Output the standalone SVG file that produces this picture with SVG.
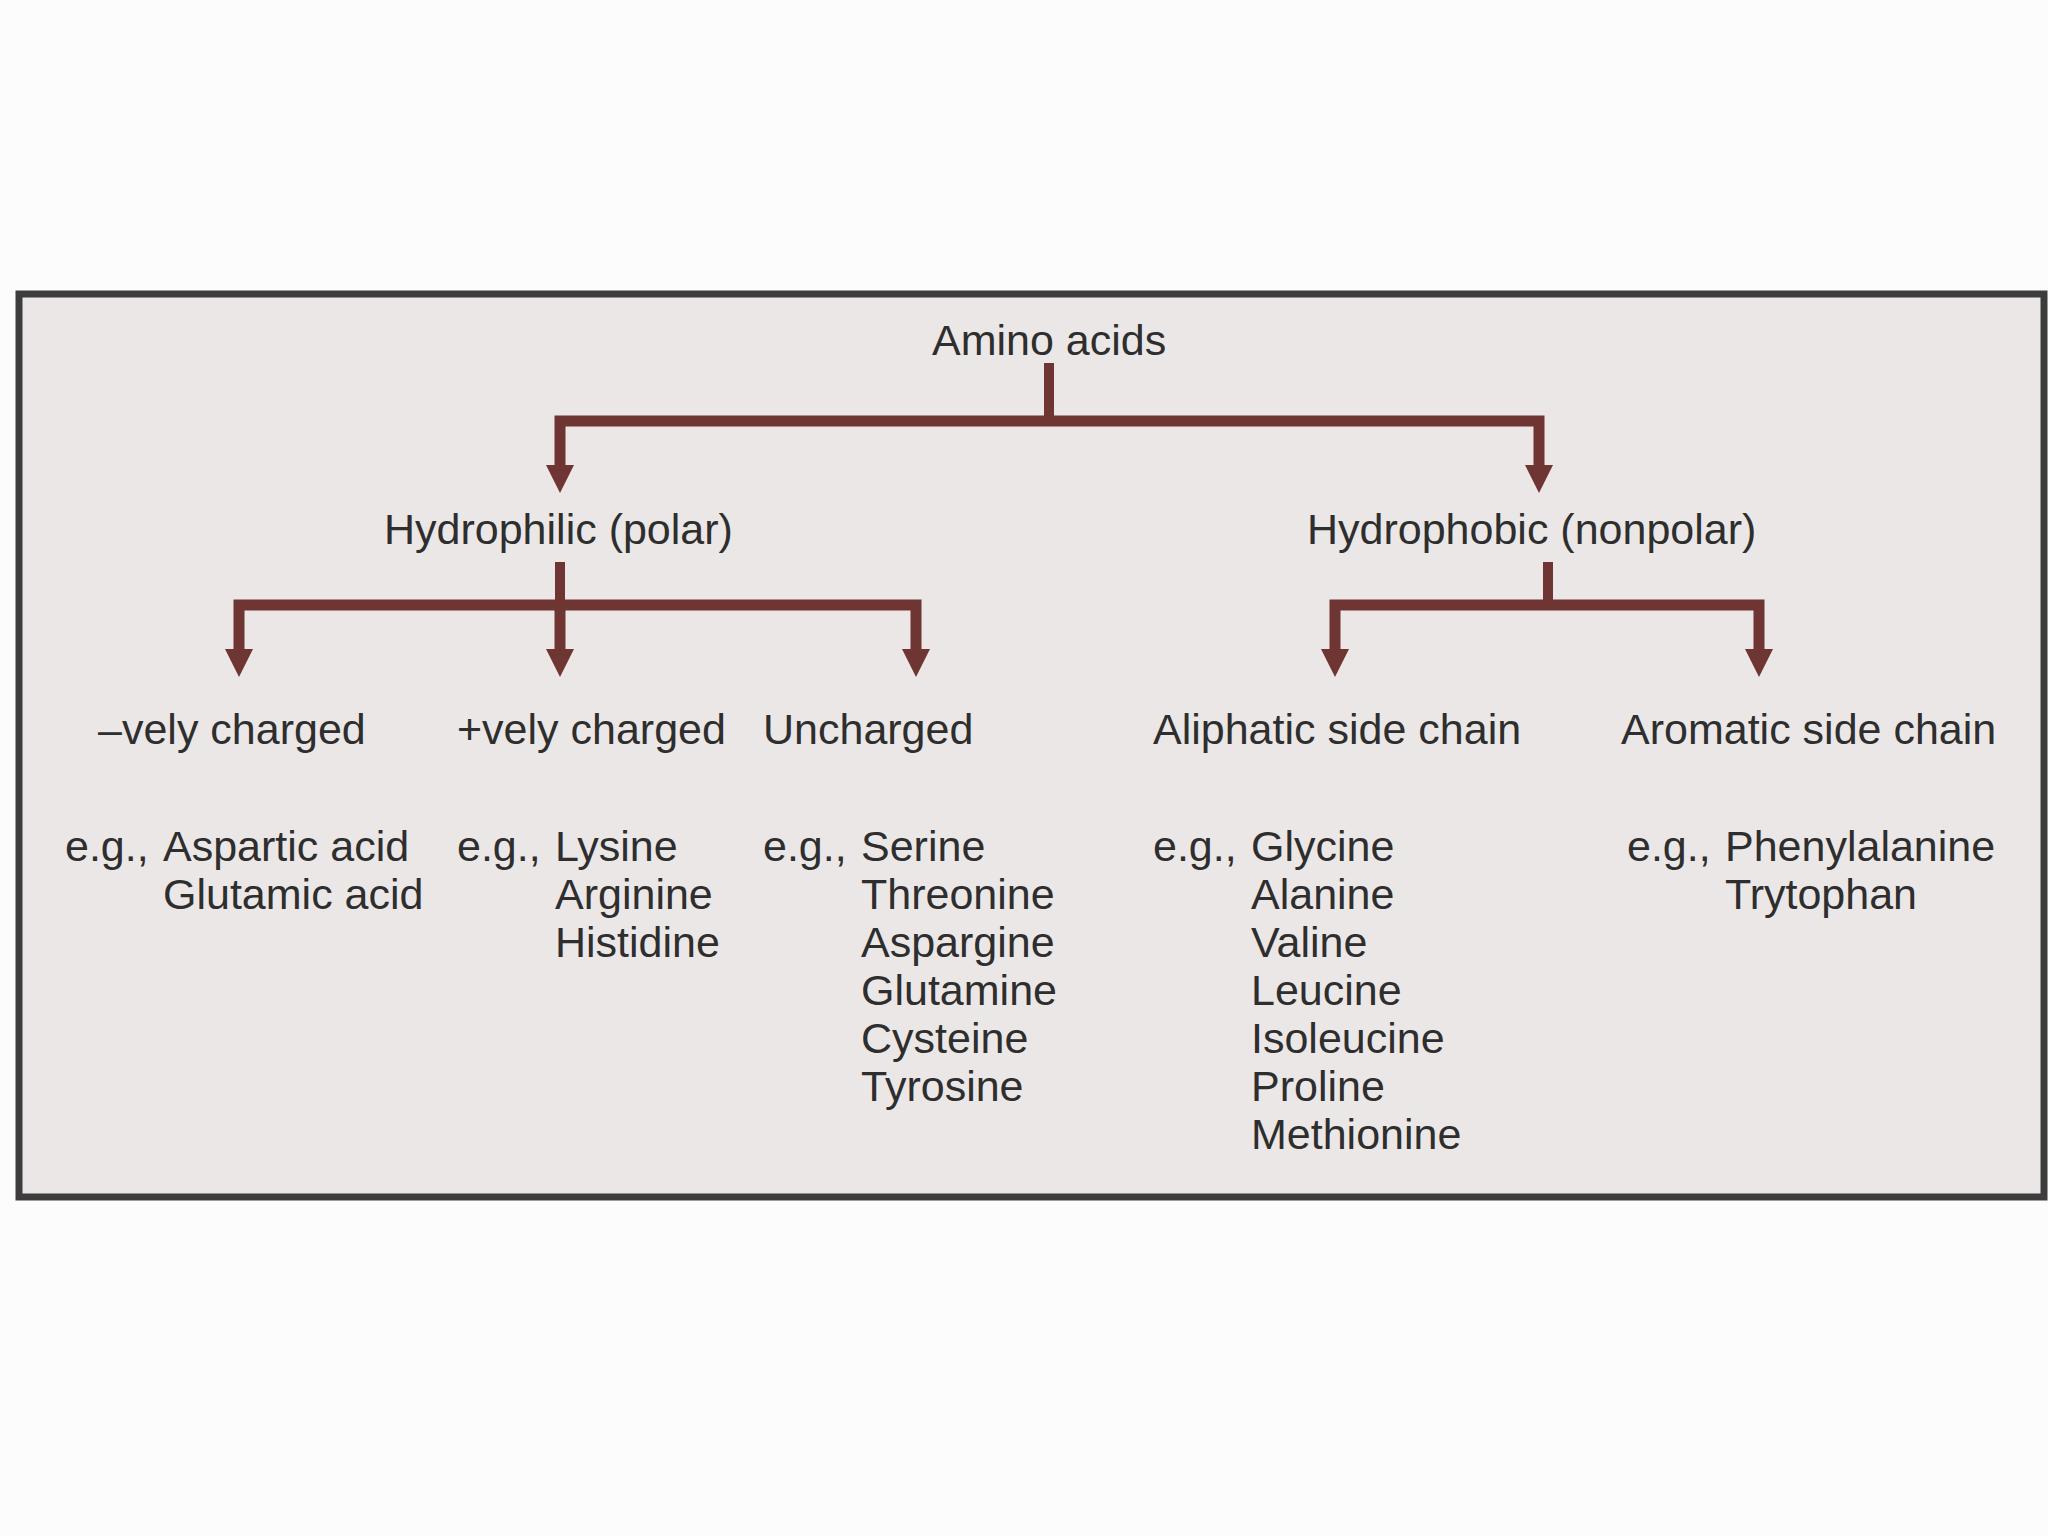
<svg xmlns="http://www.w3.org/2000/svg" width="2048" height="1536" viewBox="0 0 2048 1536">
  <defs>
    <style>
      text { font-family: "Liberation Sans", Arial, Helvetica, sans-serif; font-size: 43px; fill: #2e2e2e; }
      .conn { fill: none; stroke: #6f3533; stroke-width: 11; stroke-linejoin: miter; stroke-linecap: butt; }
      .stem { fill: none; stroke: #6f3533; stroke-width: 10; }
    </style>
    <marker id="arrow" markerUnits="userSpaceOnUse" viewBox="0 0 28 28" markerWidth="28" markerHeight="28" refX="2" refY="14" orient="auto">
      <path d="M0,0 L28,14 L0,28 z" fill="#6f3533"/>
    </marker>
  </defs>

  <rect x="0" y="0" width="2048" height="1536" fill="#fdfcfc"/>
  <rect x="19" y="294" width="2025" height="903" fill="#ebe7e6" stroke="#3d3d3d" stroke-width="7"/>

  <g id="connectors">
    <!-- Amino acids -->
    <path class="stem" d="M1049,363 V421"/>
    <path class="conn" d="M1049,421 H560 V467" marker-end="url(#arrow)"/>
    <path class="conn" d="M1049,421 H1539 V467" marker-end="url(#arrow)"/>
    <!-- Hydrophilic -->
    <path class="stem" d="M560,562 V605"/>
    <path class="conn" d="M560,605 H239 V651" marker-end="url(#arrow)"/>
    <path class="conn" d="M560,600 V651" marker-end="url(#arrow)"/>
    <path class="conn" d="M560,605 H916 V651" marker-end="url(#arrow)"/>
    <!-- Hydrophobic -->
    <path class="stem" d="M1548,562 V605"/>
    <path class="conn" d="M1548,605 H1335 V651" marker-end="url(#arrow)"/>
    <path class="conn" d="M1548,605 H1759 V651" marker-end="url(#arrow)"/>
  </g>

  <g id="amino-acids">
    <text x="932" y="355">Amino acids</text>
  </g>
  <g id="hydrophilic">
    <text x="384" y="544">Hydrophilic (polar)</text>
  </g>
  <g id="hydrophobic">
    <text x="1307" y="544">Hydrophobic (nonpolar)</text>
  </g>

  <g id="negatively-charged">
    <text x="98" y="744">–vely charged</text>
    <text x="65" y="861">e.g.,</text>
    <text x="163" y="861">Aspartic acid</text>
    <text x="163" y="909">Glutamic acid</text>
  </g>
  <g id="positively-charged">
    <text x="457" y="744">+vely charged</text>
    <text x="457" y="861">e.g.,</text>
    <text x="555" y="861">Lysine</text>
    <text x="555" y="909">Arginine</text>
    <text x="555" y="957">Histidine</text>
  </g>
  <g id="uncharged">
    <text x="763" y="744">Uncharged</text>
    <text x="763" y="861">e.g.,</text>
    <text x="861" y="861">Serine</text>
    <text x="861" y="909">Threonine</text>
    <text x="861" y="957">Aspargine</text>
    <text x="861" y="1005">Glutamine</text>
    <text x="861" y="1053">Cysteine</text>
    <text x="861" y="1101">Tyrosine</text>
  </g>
  <g id="aliphatic">
    <text x="1153" y="744">Aliphatic side chain</text>
    <text x="1153" y="861">e.g.,</text>
    <text x="1251" y="861">Glycine</text>
    <text x="1251" y="909">Alanine</text>
    <text x="1251" y="957">Valine</text>
    <text x="1251" y="1005">Leucine</text>
    <text x="1251" y="1053">Isoleucine</text>
    <text x="1251" y="1101">Proline</text>
    <text x="1251" y="1149">Methionine</text>
  </g>
  <g id="aromatic">
    <text x="1621" y="744">Aromatic side chain</text>
    <text x="1627" y="861">e.g.,</text>
    <text x="1725" y="861">Phenylalanine</text>
    <text x="1725" y="909">Trytophan</text>
  </g>
</svg>
